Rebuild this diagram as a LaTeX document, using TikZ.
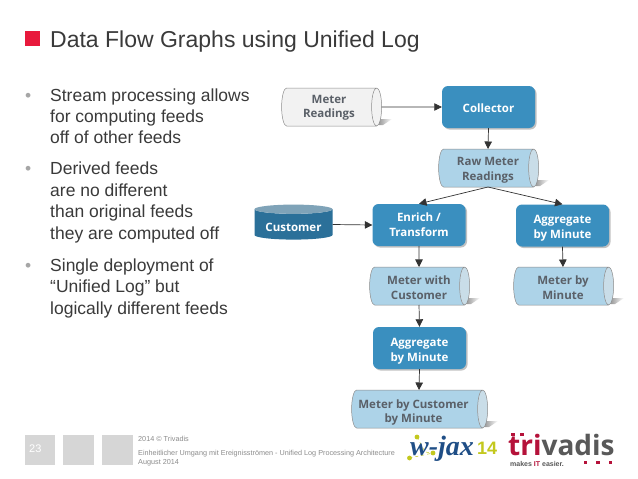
\documentclass[tikz,border=0pt]{standalone}
\usepackage{fontspec}
\setmainfont{Liberation Sans}
\newfontfamily\diagfont{Open Sans}
\newfontfamily\jaxfont{Liberation Serif}
\usetikzlibrary{shapes.geometric,arrows.meta,fadings}
\definecolor{procblue}{HTML}{3A8FBF}
\definecolor{feedblue}{HTML}{ADD3E8}
\definecolor{feedend}{HTML}{C9DDE8}
\definecolor{rawgrey}{HTML}{F2F2F2}
\definecolor{custbody}{HTML}{2B7099}
\definecolor{custtop}{HTML}{7FA3B8}
\definecolor{labelgrey}{HTML}{5A6068}
\definecolor{bodytext}{HTML}{3A3A3A}
\definecolor{footgrey}{HTML}{D6D6D6}
\definecolor{footertext}{HTML}{8C8C8C}
\definecolor{logored}{HTML}{B5123A}
\definecolor{squarered}{HTML}{E8193C}
\definecolor{logoblue}{HTML}{1F4E86}
\definecolor{logolime}{HTML}{C3C81E}
% two-line label: #1,#2 kerns left and right of it, #3 how far it drops
\newcommand{\twolab}[5]{\hbox{\kern#1pt\raisebox{-#3pt}[\height][\depth]{\begin{tabular}{@{}c@{}}#4\\#5\end{tabular}}\kern#2pt}}
\tikzset{
  x=1pt,y=-1pt,
  feed/.style={cylinder,shape aspect=.35,cylinder uses custom fill,
    cylinder body fill=feedblue,cylinder end fill=feedend,draw=black!45,line width=.5pt,
    inner sep=0pt,outer sep=0pt,minimum height=100pt,minimum width=38pt,
    text=labelgrey,font=\diagfont\bfseries\fontsize{11.5}{14.3}\selectfont},
  rawfeed/.style={feed,cylinder body fill=rawgrey,cylinder end fill=rawgrey},
  process/.style={rectangle,rounded corners=6pt,fill=procblue,inner sep=0pt,
    text=white,font=\diagfont\bfseries\fontsize{11.5}{14.3}\selectfont,
    minimum width=93pt,minimum height=42pt,
    preaction={fill=black!40,opacity=.6,transform canvas={xshift=1.5pt,yshift=-1.5pt}}},
  store/.style={cylinder,shape border rotate=90,shape aspect=.165,cylinder uses custom fill,
    cylinder body fill=custbody,cylinder end fill=custtop,inner sep=0pt,outer sep=0pt,
    minimum width=78pt,minimum height=35pt,text=white,
    font=\diagfont\bfseries\fontsize{11.5}{14}\selectfont},
  link/.style={draw=black!80,line width=.7pt,-{Triangle[length=7.5pt,width=7.5pt]}},
  castshadow/.style={fill=black!55,path fading=east,opacity=.7},
  titletext/.style={anchor=base west,inner sep=0pt,text=bodytext,font=\fontsize{23}{26}\selectfont},
  bullettext/.style={anchor=base west,inner sep=0pt,text=bodytext,font=\fontsize{17.5}{20}\selectfont},
  bulletmark/.style={anchor=base west,inner sep=0pt,text=black!35,font=\fontsize{17.5}{20}\selectfont},
  footsq/.style={fill=footgrey,draw=none},
  foottext/.style={anchor=base west,inner sep=0pt,text=footertext,font=\fontsize{7.25}{8}\selectfont},
  reddot/.style={fill=logored,draw=none},
  limedot/.style={fill=logolime,draw=none},
}
\begin{document}
\begin{tikzpicture}
\useasboundingbox (0,0) rectangle (638,479);
\fill[white] (0,0) rectangle (638,479);
% title
\fill[squarered] (25,31) rectangle (40,46);
\node[titletext] (title) at (50,47) {Data Flow Graphs using Unified Log};
% bullets
\node[bulletmark] (b1) at (25,101) {•};
\node[bullettext] (l1) at (50,101) {Stream processing allows};
\node[bullettext] (l2) at (50,122) {for computing feeds};
\node[bullettext] (l3) at (50,143) {off of other feeds};
\node[bulletmark] (b2) at (25,174) {•};
\node[bullettext] (l4) at (50,174) {Derived feeds};
\node[bullettext] (l5) at (50,196) {are no different};
\node[bullettext] (l6) at (50,217) {than original feeds};
\node[bullettext] (l7) at (50,239) {they are computed off};
\node[bulletmark] (b3) at (25,271) {•};
\node[bullettext] (l8) at (50,271) {Single deployment of};
\node[bullettext] (l9) at (50,292) {“Unified Log” but};
\node[bullettext] (l10) at (50,314) {logically different feeds};
% feed shadows
\foreach \sx/\sy in {381/126,538/187,469/305,613/305,487/428}{
  \fill[castshadow] (\sx-2,\sy-7) -- (\sx+11,\sy-7) -- (\sx+2,\sy-1) -- (\sx-2,\sy-1) -- cycle;
}
% diagram nodes
\node[rawfeed] (meter) at (329,107) {\twolab{0}{0}{0.5}{Meter}{Readings}};
\node[process] (collector) at (488.5,107) {\raisebox{-1pt}[\height][\depth]{Collector}};
\node[feed] (raw) at (486,168) {\twolab{4}{0}{2}{Raw Meter}{Readings}};
\node[store] (customer) at (293.5,224.5) {\raisebox{-3pt}[\height][0pt]{Customer}};
\node[process] (enrich) at (419,225) {\twolab{0}{0}{1}{Enrich /}{Transform}};
\node[process] (aggr) at (562.5,225.5) {\twolab{0}{0}{2.5}{Aggregate}{by Minute}};
\node[feed] (mwc) at (417,286) {\twolab{4}{0}{3}{Meter with}{Customer}};
\node[feed] (mbm) at (561,286) {\twolab{4}{0}{3}{Meter by}{Minute}};
\node[process] (aggb) at (419.5,348) {\twolab{0}{0}{3}{Aggregate}{by Minute}};
\node[feed,minimum height=136pt] (mbc) at (417,409) {\twolab{0}{7}{3.5}{Meter by Customer}{by Minute}};
% connectors
\draw[link] (meter.east) -- (collector.west);
\draw[link] (collector.south) -- ([xshift=2pt]raw.north);
\draw[link] ([xshift=2pt]raw.south) -- (enrich.north);
\draw[link] ([xshift=2pt]raw.south) -- (aggr.north);
\draw[link] (customer.east) -- (enrich.west);
\draw[link] (enrich.south) -- ([xshift=2pt]mwc.north);
\draw[link] (aggr.south) -- ([xshift=2pt]mbm.north);
\draw[link] ([xshift=2pt]mwc.south) -- (aggb.north);
\draw[link] (aggb.south) -- ([xshift=2pt]mbc.north);
% footer
\fill[footsq] (25,435) rectangle (55,465);
\fill[footsq] (63,435) rectangle (94,465);
\fill[footsq] (102,435) rectangle (133,465);
\node[anchor=base west,inner sep=0pt,text=white,font=\fontsize{11}{13}\selectfont] (page) at (29,452) {23};
\node[foottext] (f1) at (138,441) {2014 © Trivadis};
\node[foottext] (f2) at (138,455) {Einheitlicher Umgang mit Ereignisströmen - Unified Log Processing Architecture};
\node[foottext] (f3) at (138,464.5) {August 2014};
% w-jax logo
\draw[logolime,line width=.5pt,dashed] (417,437) -- (425,452) -- (433,453) (409.5,458) -- (433,453);
\fill[limedot] (417,437) circle (2.4);
\fill[limedot] (409.5,458) circle (2.4);
\fill[limedot] (433,453) circle (2.4);
\node[anchor=base west,inner sep=0pt,text=logoblue,font=\jaxfont\bfseries\itshape\fontsize{28}{30}\selectfont] (wjax) at (410,455) {w-jax};
\node[anchor=base west,inner sep=0pt,text=logolime,font=\bfseries\fontsize{18}{20}\selectfont] (y14) at (477,454) {14};
% trivadis logo
\node[anchor=base west,inner sep=0pt,font=\diagfont\bfseries\fontsize{28}{30}\selectfont] (trivadis) at (508,455) {\textcolor{logored}{tri}\textcolor{black!65}{vadis}};
\node[anchor=base west,inner sep=0pt,text=black!65,font=\bfseries\fontsize{7}{8}\selectfont] (makes) at (510,466) {makes \textcolor{logored}{IT} easier.};
\fill[reddot] (511,432.5) rectangle (514.5,436);
\fill[reddot] (520,432.5) rectangle (523.5,436);
\foreach \dx in {583.5,596,608.5}{\fill[reddot] (\dx,460.5) rectangle (\dx+3.5,464);}
\end{tikzpicture}
\end{document}
